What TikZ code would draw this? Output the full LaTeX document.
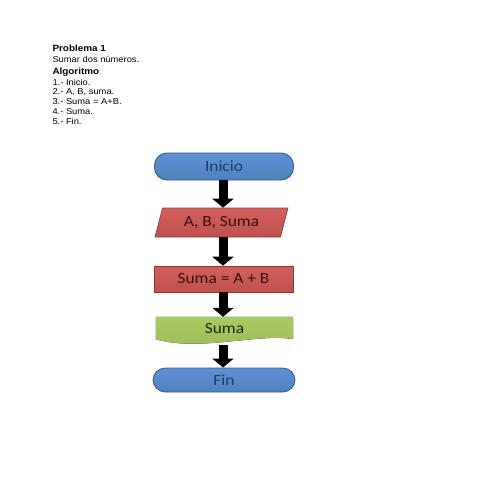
\documentclass[tikz,border=0pt]{standalone}
\usepackage{fontspec}
\setmainfont{Liberation Sans}[FakeStretch=1.1]
\newfontfamily\flowfont{Carlito}[FakeStretch=1.12]
\usetikzlibrary{shapes.geometric,arrows.meta}
\definecolor{bluefill}{HTML}{4F81BD}
\definecolor{bluetop}{HTML}{5E92D6}
\definecolor{blueline}{HTML}{385D8A}
\definecolor{bluetext}{HTML}{1F3864}
\definecolor{redfill}{HTML}{C0504D}
\definecolor{redtop}{HTML}{D2605C}
\definecolor{redline}{HTML}{8C3836}
\definecolor{redtext}{HTML}{3A0E0E}
\definecolor{greenfill}{HTML}{9BBB59}
\definecolor{greentop}{HTML}{A8CA62}
\definecolor{greentext}{HTML}{1E2A0C}
\tikzset{
  txt/.style={anchor=base west, inner sep=0pt, font=\fontsize{8.5}{10}\selectfont},
  txtb/.style={anchor=base west, inner sep=0pt, font=\fontsize{9}{11}\selectfont\bfseries},
  terminal/.style={rectangle, rounded corners=12.5pt, draw=blueline, line width=0.9pt,
    top color=bluetop, bottom color=bluefill, text=bluetext,
    font=\flowfont\fontsize{15.5}{18}\selectfont, inner sep=0pt},
  iobox/.style={trapezium, trapezium left angle=58, trapezium right angle=122,
    trapezium stretches body, draw=redline, line width=0.6pt,
    top color=redtop, bottom color=redfill, text=redtext,
    font=\flowfont\fontsize{15.5}{18}\selectfont, inner sep=0pt},
  procbox/.style={rectangle, draw=redline, line width=0.6pt,
    top color=redtop, bottom color=redfill, text=redtext,
    font=\flowfont\fontsize{15.5}{18}\selectfont, inner sep=0pt},
  docbox/.style={rectangle, inner sep=0pt, text=greentext,
    font=\flowfont\fontsize{15.5}{18}\selectfont},
  flowarrow/.style={line width=9pt, draw=black, -{Triangle[width=21pt,length=9pt]}}
}
\begin{document}
\begin{tikzpicture}[x=1pt,y=-1pt]
\useasboundingbox (0,0) rectangle (495,495);
\fill[white] (0,0) rectangle (495,495);
% text block
\node[txtb] (t1) at (52.3,51.7) {Problema 1};
\node[txt]  (t2) at (52.3,62.6) {Sumar dos números.};
\node[txtb] (t3) at (52.3,74.2) {Algoritmo};
\node[txt]  (t4) at (52.3,85.0) {1.- Inicio.};
\node[txt]  (t5) at (52.3,94.8) {2.- A, B, suma.};
\node[txt]  (t6) at (52.3,104.6) {3.- Suma = A+B.};
\node[txt]  (t7) at (52.3,114.4) {4.- Suma.};
\node[txt]  (t8) at (52.3,124.2) {5.- Fin.};
% flowchart
\node[terminal, minimum width=139pt, minimum height=27pt] (inicio) at (224,166.5) {Inicio};
\node[iobox, minimum width=133pt, minimum height=29pt] (leer) at (221.5,222.5) {A, B, Suma};
\node[procbox, minimum width=139pt, minimum height=26pt] (calc) at (223.5,279) {\raisebox{2pt}{Suma = A + B}};
\node[docbox, minimum width=137pt, minimum height=22pt] (mostrar) at (224.5,328) {};
\fill[top color=greentop, bottom color=greenfill]
  (mostrar.north west) -- (mostrar.north east) -- (mostrar.south east)
  .. controls (258,333) and (200,352) .. (mostrar.south west) -- cycle;
\node[docbox] (mostrartxt) at ([yshift=-1pt]mostrar.center) {Suma};
\coordinate (docbottom) at (224,345);
\node[terminal, minimum width=142pt, minimum height=24pt] (fin) at (224,380) {Fin};
% connectors
\draw[flowarrow] (inicio.south -| 223,0) -- (leer.north -| 223,0);
\draw[flowarrow] (leer.south -| 223,0) -- (calc.north -| 223,0);
\draw[flowarrow] (calc.south -| 223,0) -- (mostrar.north -| 223,0);
\draw[flowarrow] (docbottom -| 223,0) -- (fin.north -| 223,0);
\end{tikzpicture}
\end{document}
